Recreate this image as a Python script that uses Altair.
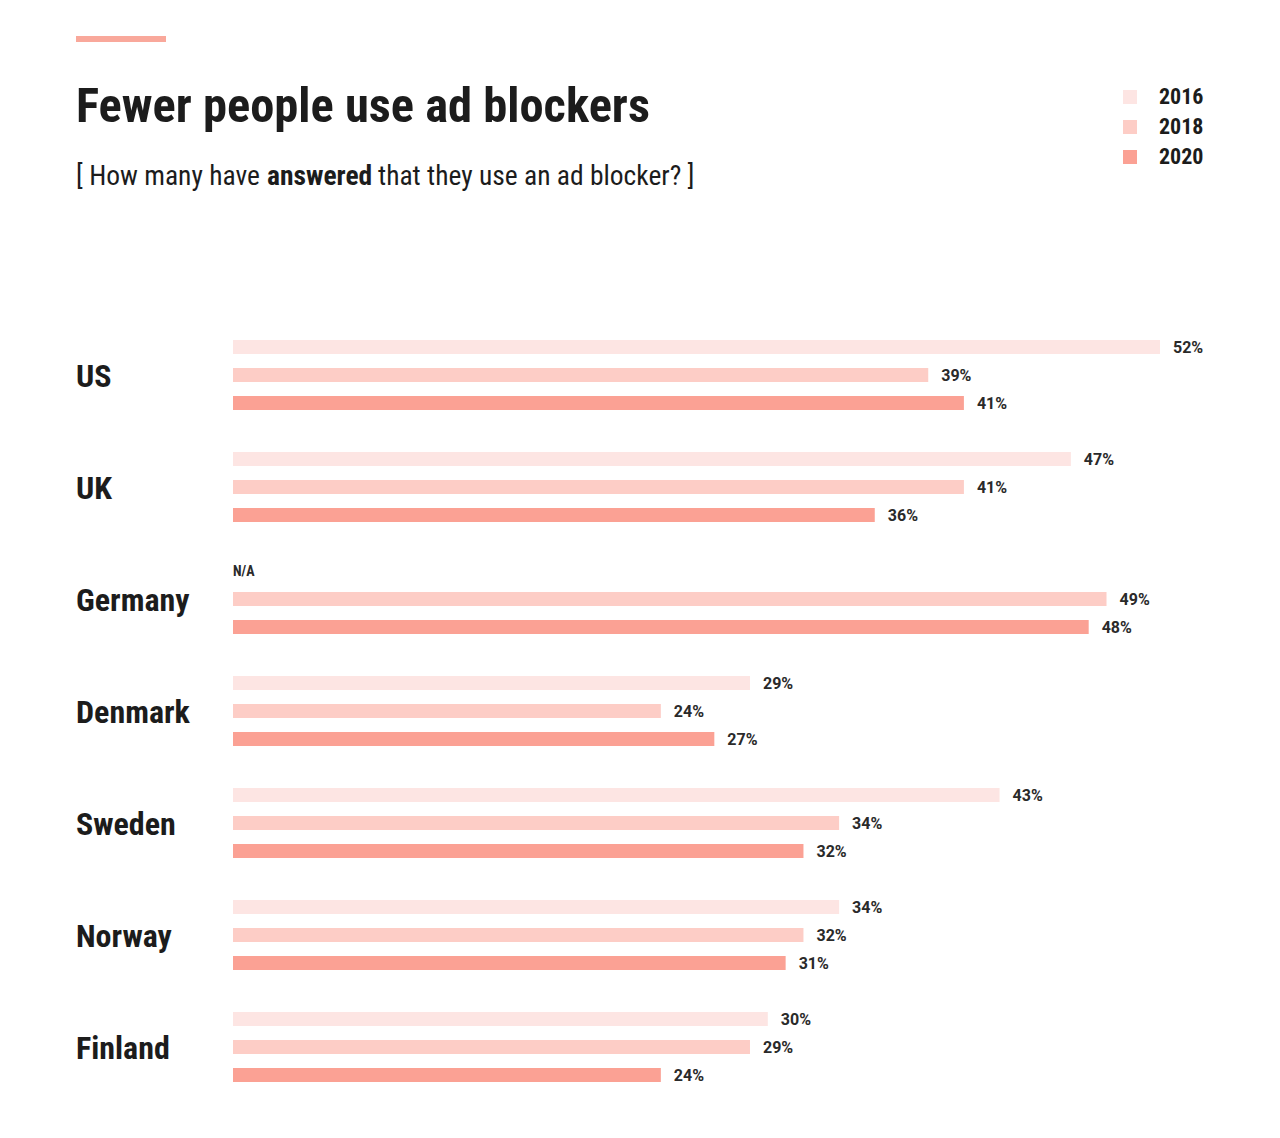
import altair as alt
import pandas as pd

countries = ["US", "UK", "Germany", "Denmark", "Sweden", "Norway", "Finland"]
years = ["2016", "2018", "2020"]
v2016 = [52, 47, None, 29, 43, 34, 30]
v2018 = [39, 41, 49, 24, 34, 32, 29]
v2020 = [41, 36, 48, 27, 32, 31, 24]
colors = ["#FDE5E3", "#FDCDC6", "#FBA194"]

title_text = "Fewer people use ad blockers"
sub_a = "[ How many have"
sub_b = "answered"
sub_c = "that they use an ad blocker? ]"
na_text = "N/A"

FONT = "Roboto Condensed, Liberation Sans Narrow, Roboto, sans-serif"
NFONT = "Roboto, sans-serif"
INK = "#1c1c1c"

rows = []
for i, c in enumerate(countries):
    for y, vals in zip(years, [v2016, v2018, v2020]):
        v = vals[i]
        rows.append({"country": c, "year": y, "value": v,
                     "label": (f"{v}%" if v is not None else na_text)})
df = pd.DataFrame(rows)

yscale = alt.Scale(domain=countries, paddingInner=0.25, paddingOuter=0.125)
oscale = alt.Scale(domain=years, paddingInner=0.5, paddingOuter=0.25)
xscale = alt.Scale(domain=[0, 52], nice=False, zero=True)

base = alt.Chart(df)

bars = base.transform_filter("datum.value != null").mark_bar(cornerRadius=0).encode(
    x=alt.X("value:Q", scale=xscale, axis=None),
    y=alt.Y("country:N", scale=yscale, axis=None),
    yOffset=alt.YOffset("year:N", scale=oscale),
    color=alt.Color("year:N", scale=alt.Scale(domain=years, range=colors),
                    legend=alt.Legend(title=None, orient="none", legendX=886, legendY=-233,
                                      symbolType="square", symbolSize=196, symbolStrokeWidth=0,
                                      labelFont=FONT, labelFontSize=22, labelFontWeight="bold",
                                      labelColor=INK, labelOffset=18, rowPadding=8, padding=0,
                                      symbolOpacity=1)),
)

vlabels = base.transform_filter("datum.value != null").mark_text(
    align="left", baseline="middle", dx=13, dy=1, font=NFONT, fontSize=16, fontWeight="bold", color="#2a2a2a"
).encode(
    x=alt.X("value:Q", scale=xscale),
    y=alt.Y("country:N", scale=yscale),
    yOffset=alt.YOffset("year:N", scale=oscale),
    text="label:N",
)

nalabels = base.transform_filter("datum.value == null").mark_text(
    align="left", baseline="middle", dx=0, dy=1, font=FONT, fontSize=14, fontWeight="bold", color="#2a2a2a"
).encode(
    x=alt.value(0),
    y=alt.Y("country:N", scale=yscale),
    yOffset=alt.YOffset("year:N", scale=oscale),
    text="label:N",
)

clabels = alt.Chart(pd.DataFrame({"country": countries})).mark_text(
    align="left", baseline="middle", dy=2, font=FONT, fontSize=32, fontWeight="bold", color=INK
).encode(
    x=alt.value(-157),
    y=alt.Y("country:N", scale=yscale),
    text="country:N",
)

accent = alt.Chart(pd.DataFrame({"a": [1]})).mark_rect(color="#F9A89B").encode(
    x=alt.value(-157), x2=alt.value(-67), y=alt.value(-283), y2=alt.value(-277)
)

title = alt.Chart(pd.DataFrame({"t": [title_text]})).mark_text(
    align="left", baseline="alphabetic", font=FONT, fontSize=48.5, fontWeight="bold", color=INK
).encode(x=alt.value(-157), y=alt.value(-197), text="t:N")

s1 = alt.Chart(pd.DataFrame({"t": [sub_a]})).mark_text(
    align="left", baseline="alphabetic", font=FONT, fontSize=27.5, color=INK
).encode(x=alt.value(-157), y=alt.value(-134), text="t:N")
s2 = alt.Chart(pd.DataFrame({"t": [sub_b]})).mark_text(
    align="left", baseline="alphabetic", font=FONT, fontSize=27.5, fontWeight="bold", color=INK
).encode(x=alt.value(34), y=alt.value(-134), text="t:N")
s3 = alt.Chart(pd.DataFrame({"t": [sub_c]})).mark_text(
    align="left", baseline="alphabetic", font=FONT, fontSize=27.5, color=INK
).encode(x=alt.value(145), y=alt.value(-134), text="t:N")

chart = alt.layer(bars, vlabels, nalabels, clabels, accent, title, s1, s2, s3).properties(
    width=927, height=784,
    autosize=alt.AutoSizeParams(type="none"),
    padding={"left": 225, "top": 311, "right": 60, "bottom": 20},
    background="white",
).configure_view(stroke=None)

chart.save("out.html", embed_options={"renderer": "svg", "actions": False})
